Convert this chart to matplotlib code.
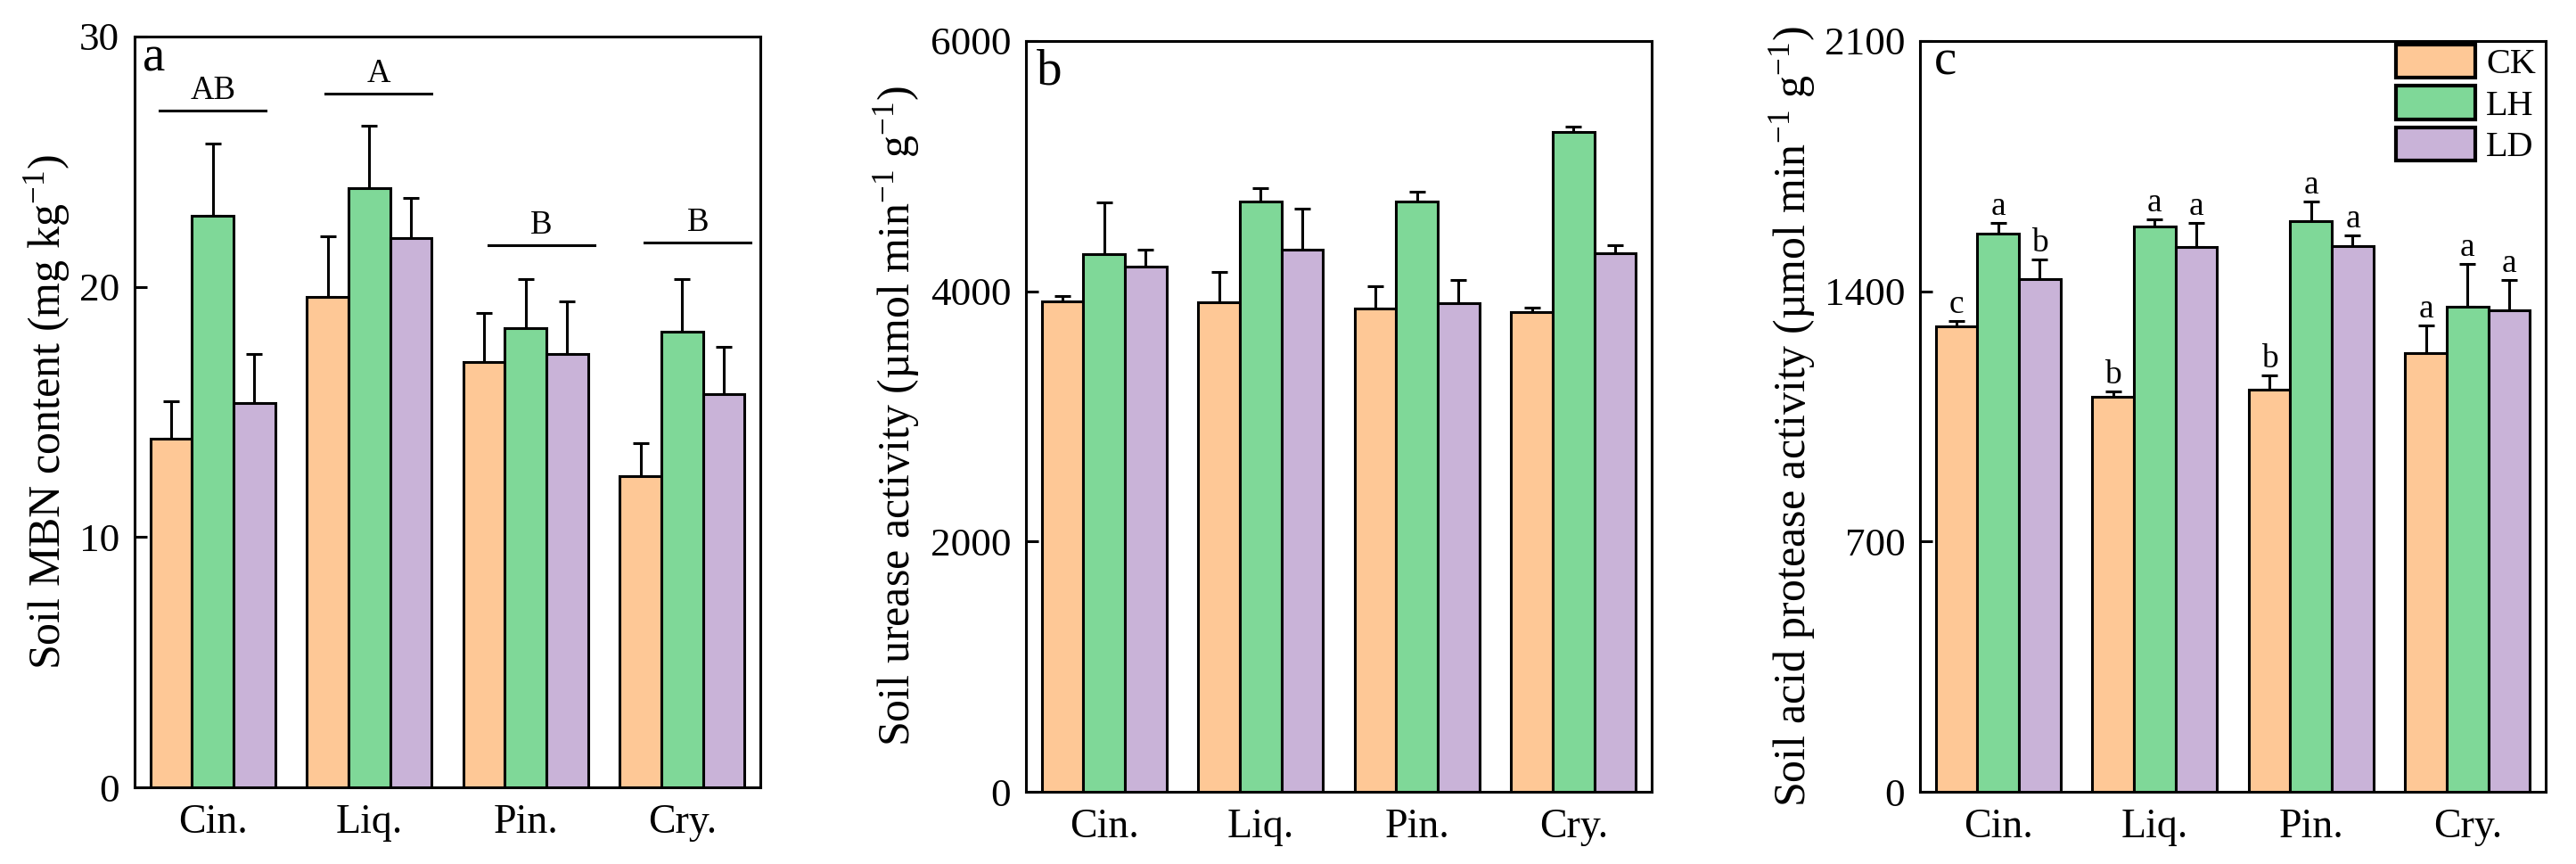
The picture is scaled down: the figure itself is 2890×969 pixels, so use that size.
import numpy as np
import matplotlib
matplotlib.use("Agg")
import matplotlib.pyplot as plt

plt.rcParams['font.family'] = ['Liberation Serif', 'DejaVu Serif']
plt.rcParams['mathtext.fontset'] = 'custom'
plt.rcParams['mathtext.rm'] = 'Liberation Serif'
plt.rcParams['mathtext.it'] = 'Liberation Serif:italic'

sites = ['Cin.', 'Liq.', 'Pin.', 'Cry.']
treatments = ['CK', 'LH', 'LD']
colors = ['#FEC896', '#7FD898', '#C9B3D8']

# panel a: soil MBN (mean, upper error)
mbn_mean = {'CK': [13.92, 19.61, 17.01, 12.44],
            'LH': [22.85, 23.93, 18.35, 18.22],
            'LD': [15.35, 21.95, 17.30, 15.71]}
mbn_err = {'CK': [1.52, 2.41, 1.96, 1.33],
           'LH': [2.87, 2.50, 1.95, 2.08],
           'LD': [1.97, 1.61, 2.13, 1.89]}
mbn_groups = ['AB', 'A', 'B', 'B']
mbn_group_y = [27.04, 27.73, 21.66, 21.77]
mbn_group_shift = [0.0, 0.06, 0.1, 0.1]

# panel b: urease
ure_mean = {'CK': [3920, 3911, 3862, 3832],
            'LH': [4298, 4720, 4716, 5270],
            'LD': [4197, 4329, 3902, 4307]}
ure_err = {'CK': [43, 246, 181, 39],
           'LH': [413, 101, 79, 48],
           'LD': [136, 334, 185, 61]}

# panel c: acid protease
pro_mean = {'CK': [1301, 1104, 1125, 1227],
            'LH': [1561, 1581, 1597, 1358],
            'LD': [1435, 1524, 1527, 1347]}
pro_err = {'CK': [15, 15, 40, 77],
           'LH': [29, 19, 53, 118],
           'LD': [54, 66, 30, 85]}
pro_letters = {'CK': ['c', 'b', 'b', 'a'],
               'LH': ['a', 'a', 'a', 'a'],
               'LD': ['b', 'a', 'a', 'a']}

W = 0.266
LW = 2.2


def draw_bars(ax, means, errs, ylim, yticks, ylabel, letter, letter_pos, label_x):
    x = np.arange(len(sites))
    bars = []
    for i, t in enumerate(treatments):
        xi = x + (i - 1) * W
        b = ax.bar(xi, means[t], W, color=colors[i], edgecolor='black',
                   linewidth=LW, zorder=3, label=t)
        ax.errorbar(xi, means[t], yerr=[np.zeros(len(sites)), errs[t]], fmt='none',
                    ecolor='black', elinewidth=LW, capsize=6.5, capthick=LW, zorder=2)
        bars.append(b)
    ax.set_xlim(-0.5, 3.5)
    ax.set_ylim(*ylim)
    ax.set_yticks(yticks)
    ax.set_xticks(x)
    ax.set_xticklabels(sites)
    ax.tick_params(axis='y', direction='in', length=10, width=LW, labelsize=32.5, pad=12)
    ax.tick_params(axis='x', length=0, labelsize=33, pad=13)
    for s in ax.spines.values():
        s.set_linewidth(LW)
    ax.set_ylabel(ylabel, fontsize=36)
    ax.yaxis.set_label_coords(label_x, 0.5)
    ax.text(letter_pos[0], letter_pos[1], letter, transform=ax.transAxes,
            fontsize=41, va='baseline', ha='left')
    return bars


fig = plt.figure(figsize=(28.9, 9.69), dpi=100)
ax_a = fig.add_axes([0.05225, 0.08875, 0.24291, 0.86894])
ax_b = fig.add_axes([0.39827, 0.08359, 0.24291, 0.86894])
ax_c = fig.add_axes([0.74533, 0.08359, 0.24291, 0.86894])

draw_bars(ax_a, mbn_mean, mbn_err, (0, 30), [0, 10, 20, 30],
          'Soil MBN content (mg kg$^{-1}$)', 'a', (0.013, 0.954), -0.10)
for i, g in enumerate(mbn_groups):
    c = i + mbn_group_shift[i]
    ax_a.plot([c - 0.34, c + 0.34], [mbn_group_y[i]] * 2, color='black', lw=LW)
    ax_a.text(c, mbn_group_y[i] + 0.47, g, ha='center', va='baseline', fontsize=26.5)

draw_bars(ax_b, ure_mean, ure_err, (0, 6000), [0, 2000, 4000, 6000],
          'Soil urease activity (µmol min$^{-1}$ g$^{-1}$)', 'b', (0.017, 0.942), -0.167)

bars_c = draw_bars(ax_c, pro_mean, pro_err, (0, 2100), [0, 700, 1400, 2100],
                   'Soil acid protease activity (µmol min$^{-1}$ g$^{-1}$)', 'c',
                   (0.023, 0.956), -0.164)
for i, t in enumerate(treatments):
    for j in range(len(sites)):
        ax_c.annotate(pro_letters[t][j], (j + (i - 1) * W, pro_mean[t][j] + pro_err[t][j]),
                      xytext=(0, 6.5), textcoords='offset points',
                      ha='center', va='baseline', fontsize=27)

leg = ax_c.legend(loc='upper right', bbox_to_anchor=(0.99, 1.0), frameon=False,
                  fontsize=29, handlelength=2.2, handleheight=1.05, labelspacing=0.12,
                  handletextpad=0.3, borderaxespad=0, borderpad=0.1)
for h in leg.legend_handles:
    h.set_linewidth(3)

fig.savefig('out.png', dpi=100)
